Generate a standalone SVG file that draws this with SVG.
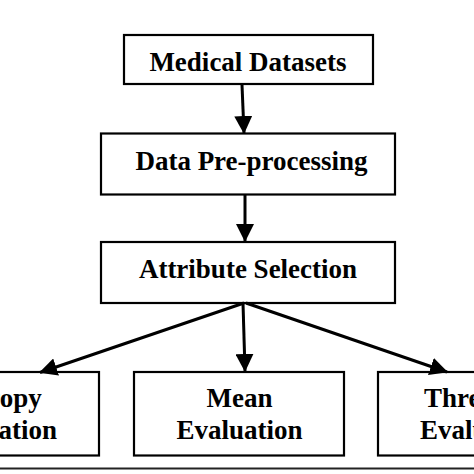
<svg xmlns="http://www.w3.org/2000/svg" width="474" height="474" viewBox="0 0 474 474">
<style>
.box{fill:#fff;stroke:#000;stroke-width:2.2}
.t{font-family:"Liberation Serif","Times New Roman",serif;font-weight:bold;font-size:27px;fill:#000;text-anchor:middle}
.c{stroke:#000;stroke-width:3;fill:none}
</style>
<defs>
<marker id="ah" markerUnits="userSpaceOnUse" markerWidth="18" markerHeight="18" viewBox="0 0 18 18" refX="17" refY="9" orient="auto">
<path d="M0,0 L18,9 L0,18 Z" fill="#000"/>
</marker>
</defs>
<rect width="474" height="474" fill="#fff"/>
<g id="n1"><rect class="box" x="124" y="35" width="249" height="49"/><text class="t" x="248" y="71">Medical Datasets</text></g>
<g id="n2"><rect class="box" x="101" y="133.5" width="294" height="61"/><text class="t" x="251.5" y="170">Data Pre-processing</text></g>
<g id="n3"><rect class="box" x="101" y="242" width="294" height="61"/><text class="t" x="248" y="278">Attribute Selection</text></g>
<g id="n4"><rect class="box" x="-111" y="372" width="210" height="83.5"/><text class="t" x="-6" y="407">Entropy</text><text class="t" x="-6" y="439">Evaluation</text></g>
<g id="n5"><rect class="box" x="134" y="372" width="210" height="83.5"/><text class="t" x="239.5" y="407">Mean</text><text class="t" x="239.5" y="439">Evaluation</text></g>
<g id="n6"><rect class="box" x="378" y="372" width="210" height="83.5"/><text class="t" x="483" y="407">Threshold</text><text class="t" x="483" y="439">Evaluation</text></g>
<g id="connectors">
<line class="c" x1="242" y1="85" x2="244" y2="133" marker-end="url(#ah)"/>
<line class="c" x1="245" y1="195" x2="245" y2="241" marker-end="url(#ah)"/>
<line class="c" x1="244" y1="303" x2="40" y2="372.5" marker-end="url(#ah)"/>
<line class="c" x1="243" y1="303" x2="245" y2="371" marker-end="url(#ah)"/>
<line class="c" x1="246" y1="303" x2="447" y2="372" marker-end="url(#ah)"/>
</g>
<line x1="0" y1="468.5" x2="474" y2="468.5" stroke="#222" stroke-width="2.2"/>
</svg>
